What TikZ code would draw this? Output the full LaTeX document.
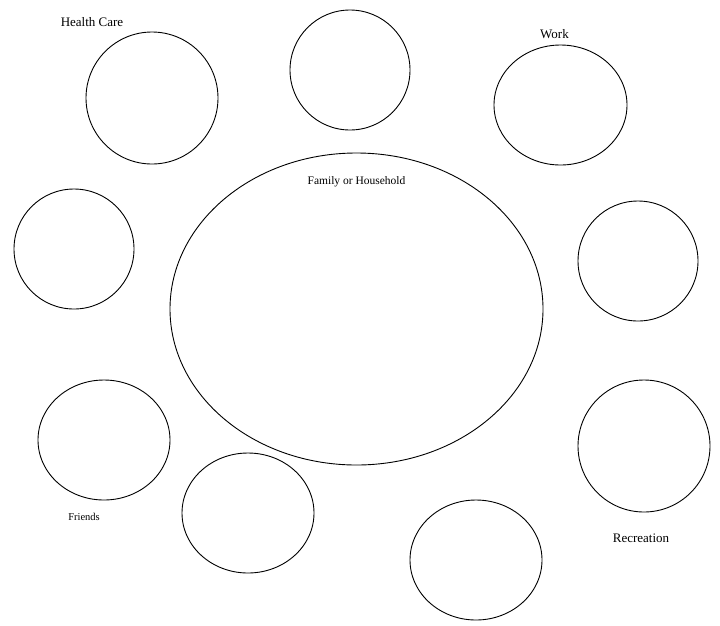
\documentclass[tikz,border=0pt]{standalone}
\usepackage{fontspec}
\setmainfont{Liberation Serif}
\usepackage{tikz}
\usetikzlibrary{shapes,positioning}
\tikzset{
  bubble/.style={ellipse,draw=black,line width=0.9pt,inner sep=0pt},
  tag/.style={inner sep=0pt,font=\fontsize{13}{15}\selectfont}
}

\begin{document}
\begin{tikzpicture}[x=1pt,y=-1pt]
          \useasboundingbox (0,0) rectangle (720,625);
          \begin{scope}
              % the household in the middle
              \node[bubble,minimum width=373pt,minimum height=312pt] (home) at (356.5,309) {};
              % the ring of circles round it
              \node[bubble,minimum width=132pt,minimum height=132pt] (health) at (152,98) {};
              \node[bubble,minimum width=120pt,minimum height=120pt] (top)    at (350,70) {};
              \node[bubble,minimum width=133pt,minimum height=120pt] (work)   at (560.5,105) {};
              \node[bubble,minimum width=120pt,minimum height=120pt] (left)   at (74,249) {};
              \node[bubble,minimum width=120pt,minimum height=120pt] (right)  at (638,261) {};
              \node[bubble,minimum width=132pt,minimum height=120pt] (friend) at (104,440) {};
              \node[bubble,minimum width=132pt,minimum height=120pt] (lowl)   at (248,513) {};
              \node[bubble,minimum width=132pt,minimum height=120pt] (lowm)   at (476,560) {};
              \node[bubble,minimum width=132pt,minimum height=132pt] (recr)   at (644,446) {};
          \end{scope}

          \begin{scope}[every node/.style={tag}]
              \node (healthtxt) at (92,22) {Health Care};
              \node (worktxt)   at (554.5,34) {Work};
              \node (recrtxt)   at (641,538) {Recreation};
              \node[font=\fontsize{11.5}{13}\selectfont] (hometxt) [below=24pt of home.north] {Family or Household};
              \node[font=\fontsize{10.5}{12}\selectfont] (friendtxt) at (84,517) {Friends};
          \end{scope}
\end{tikzpicture}
\end{document}
